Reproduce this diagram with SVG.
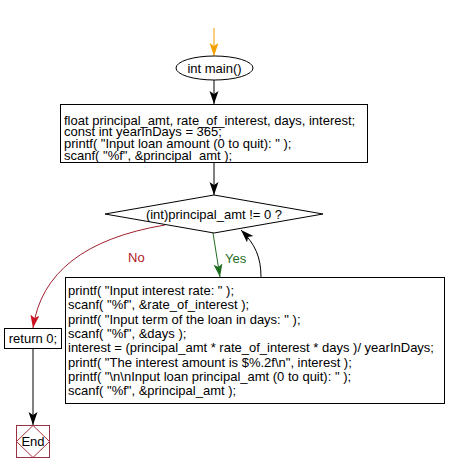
<svg xmlns="http://www.w3.org/2000/svg" width="449" height="473" viewBox="0 0 449 473">
<style>
text{font-family:"Liberation Sans",Arial,sans-serif;font-size:13px;fill:#000}
.box{fill:#fff;stroke:#000;stroke-width:1}
.ln{fill:none;stroke:#000;stroke-width:1}
.mid{text-anchor:middle}
</style>
<defs>
<marker id="ab" markerUnits="userSpaceOnUse" markerWidth="14" markerHeight="10" refX="13" refY="4.5" orient="auto"><path d="M0,0 L13,4.5 L0,9 L3,4.5 z" fill="#000"/></marker>
<marker id="ag" markerUnits="userSpaceOnUse" markerWidth="14" markerHeight="10" refX="13" refY="4.5" orient="auto"><path d="M0,0 L13,4.5 L0,9 L3,4.5 z" fill="#1f6e1f"/></marker>
<marker id="ar" markerUnits="userSpaceOnUse" markerWidth="14" markerHeight="10" refX="13" refY="4.5" orient="auto"><path d="M0,0 L13,4.5 L0,9 L3,4.5 z" fill="#cc1122"/></marker>
<marker id="ao" markerUnits="userSpaceOnUse" markerWidth="14" markerHeight="10" refX="13" refY="4.5" orient="auto"><path d="M0,0 L13,4.5 L0,9 L3,4.5 z" fill="#f5a000"/></marker>
</defs>
<g id="connectors">
<line x1="214" y1="28" x2="214" y2="56" stroke="#f5a000" stroke-width="1" marker-end="url(#ao)"/>
<line class="ln" x1="214" y1="80" x2="214" y2="104" marker-end="url(#ab)"/>
<line class="ln" x1="214" y1="163" x2="214" y2="195" marker-end="url(#ab)"/>
<line x1="213" y1="233" x2="220" y2="277" stroke="#1f6e1f" stroke-width="1" marker-end="url(#ag)"/>
<text x="225" y="263" style="fill:#1f6e1f">Yes</text>
<path d="M165,225 Q45,245 33,328" fill="none" stroke="#a02030" stroke-width="1" marker-end="url(#ar)"/>
<text x="128" y="262" style="fill:#b02028">No</text>
<path class="ln" d="M261,277 C261,257 255,244 241,230" marker-end="url(#ab)"/>
<line class="ln" x1="33" y1="348" x2="33" y2="425" marker-end="url(#ab)"/>
</g>
<g id="start">
<ellipse cx="214.5" cy="68" rx="38.5" ry="12" class="box"/>
<text x="214.5" y="73" class="mid">int main()</text>
</g>
<g id="init">
<rect x="60.5" y="104.5" width="307" height="58" class="box"/>
<text x="64" y="124.5">float principal_amt, rate_of_interest, days, interest;</text>
<text x="64" y="136.2">const int yearInDays = 365;</text>
<text x="64" y="147.9">printf( "Input loan amount (0 to quit): " );</text>
<text x="64" y="159.6">scanf( "%f", &amp;principal_amt );</text>
</g>
<g id="decision">
<polygon points="105,214 214,195 323,214 214,233" class="box"/>
<text x="214" y="218.5" class="mid">(int)principal_amt != 0 ?</text>
</g>
<g id="loop">
<rect x="65.5" y="277.5" width="379" height="126" class="box"/>
<text x="68" y="295">printf( "Input interest rate: " );</text>
<text x="68" y="309.3">scanf( "%f", &amp;rate_of_interest );</text>
<text x="68" y="323.6">printf( "Input term of the loan in days: " );</text>
<text x="68" y="337.9">scanf( "%f", &amp;days );</text>
<text x="68" y="352.2">interest = (principal_amt * rate_of_interest * days )/ yearInDays;</text>
<text x="68" y="366.5">printf( "The interest amount is $%.2f\n", interest );</text>
<text x="68" y="380.8">printf( "\n\nInput loan principal_amt (0 to quit): " );</text>
<text x="68" y="395.1">scanf( "%f", &amp;principal_amt );</text>
</g>
<g id="ret">
<rect x="4.5" y="328.5" width="57" height="20" class="box"/>
<text x="33" y="343" class="mid">return 0;</text>
</g>
<g id="end">
<rect x="16.5" y="425.5" width="33" height="32" fill="#fff" stroke="#993344" stroke-width="1"/>
<polygon points="33,425.5 49.5,441.5 33,457.5 16.5,441.5" fill="none" stroke="#aa3344" stroke-width="1"/>
<text x="33" y="446" class="mid">End</text>
</g>
</svg>
